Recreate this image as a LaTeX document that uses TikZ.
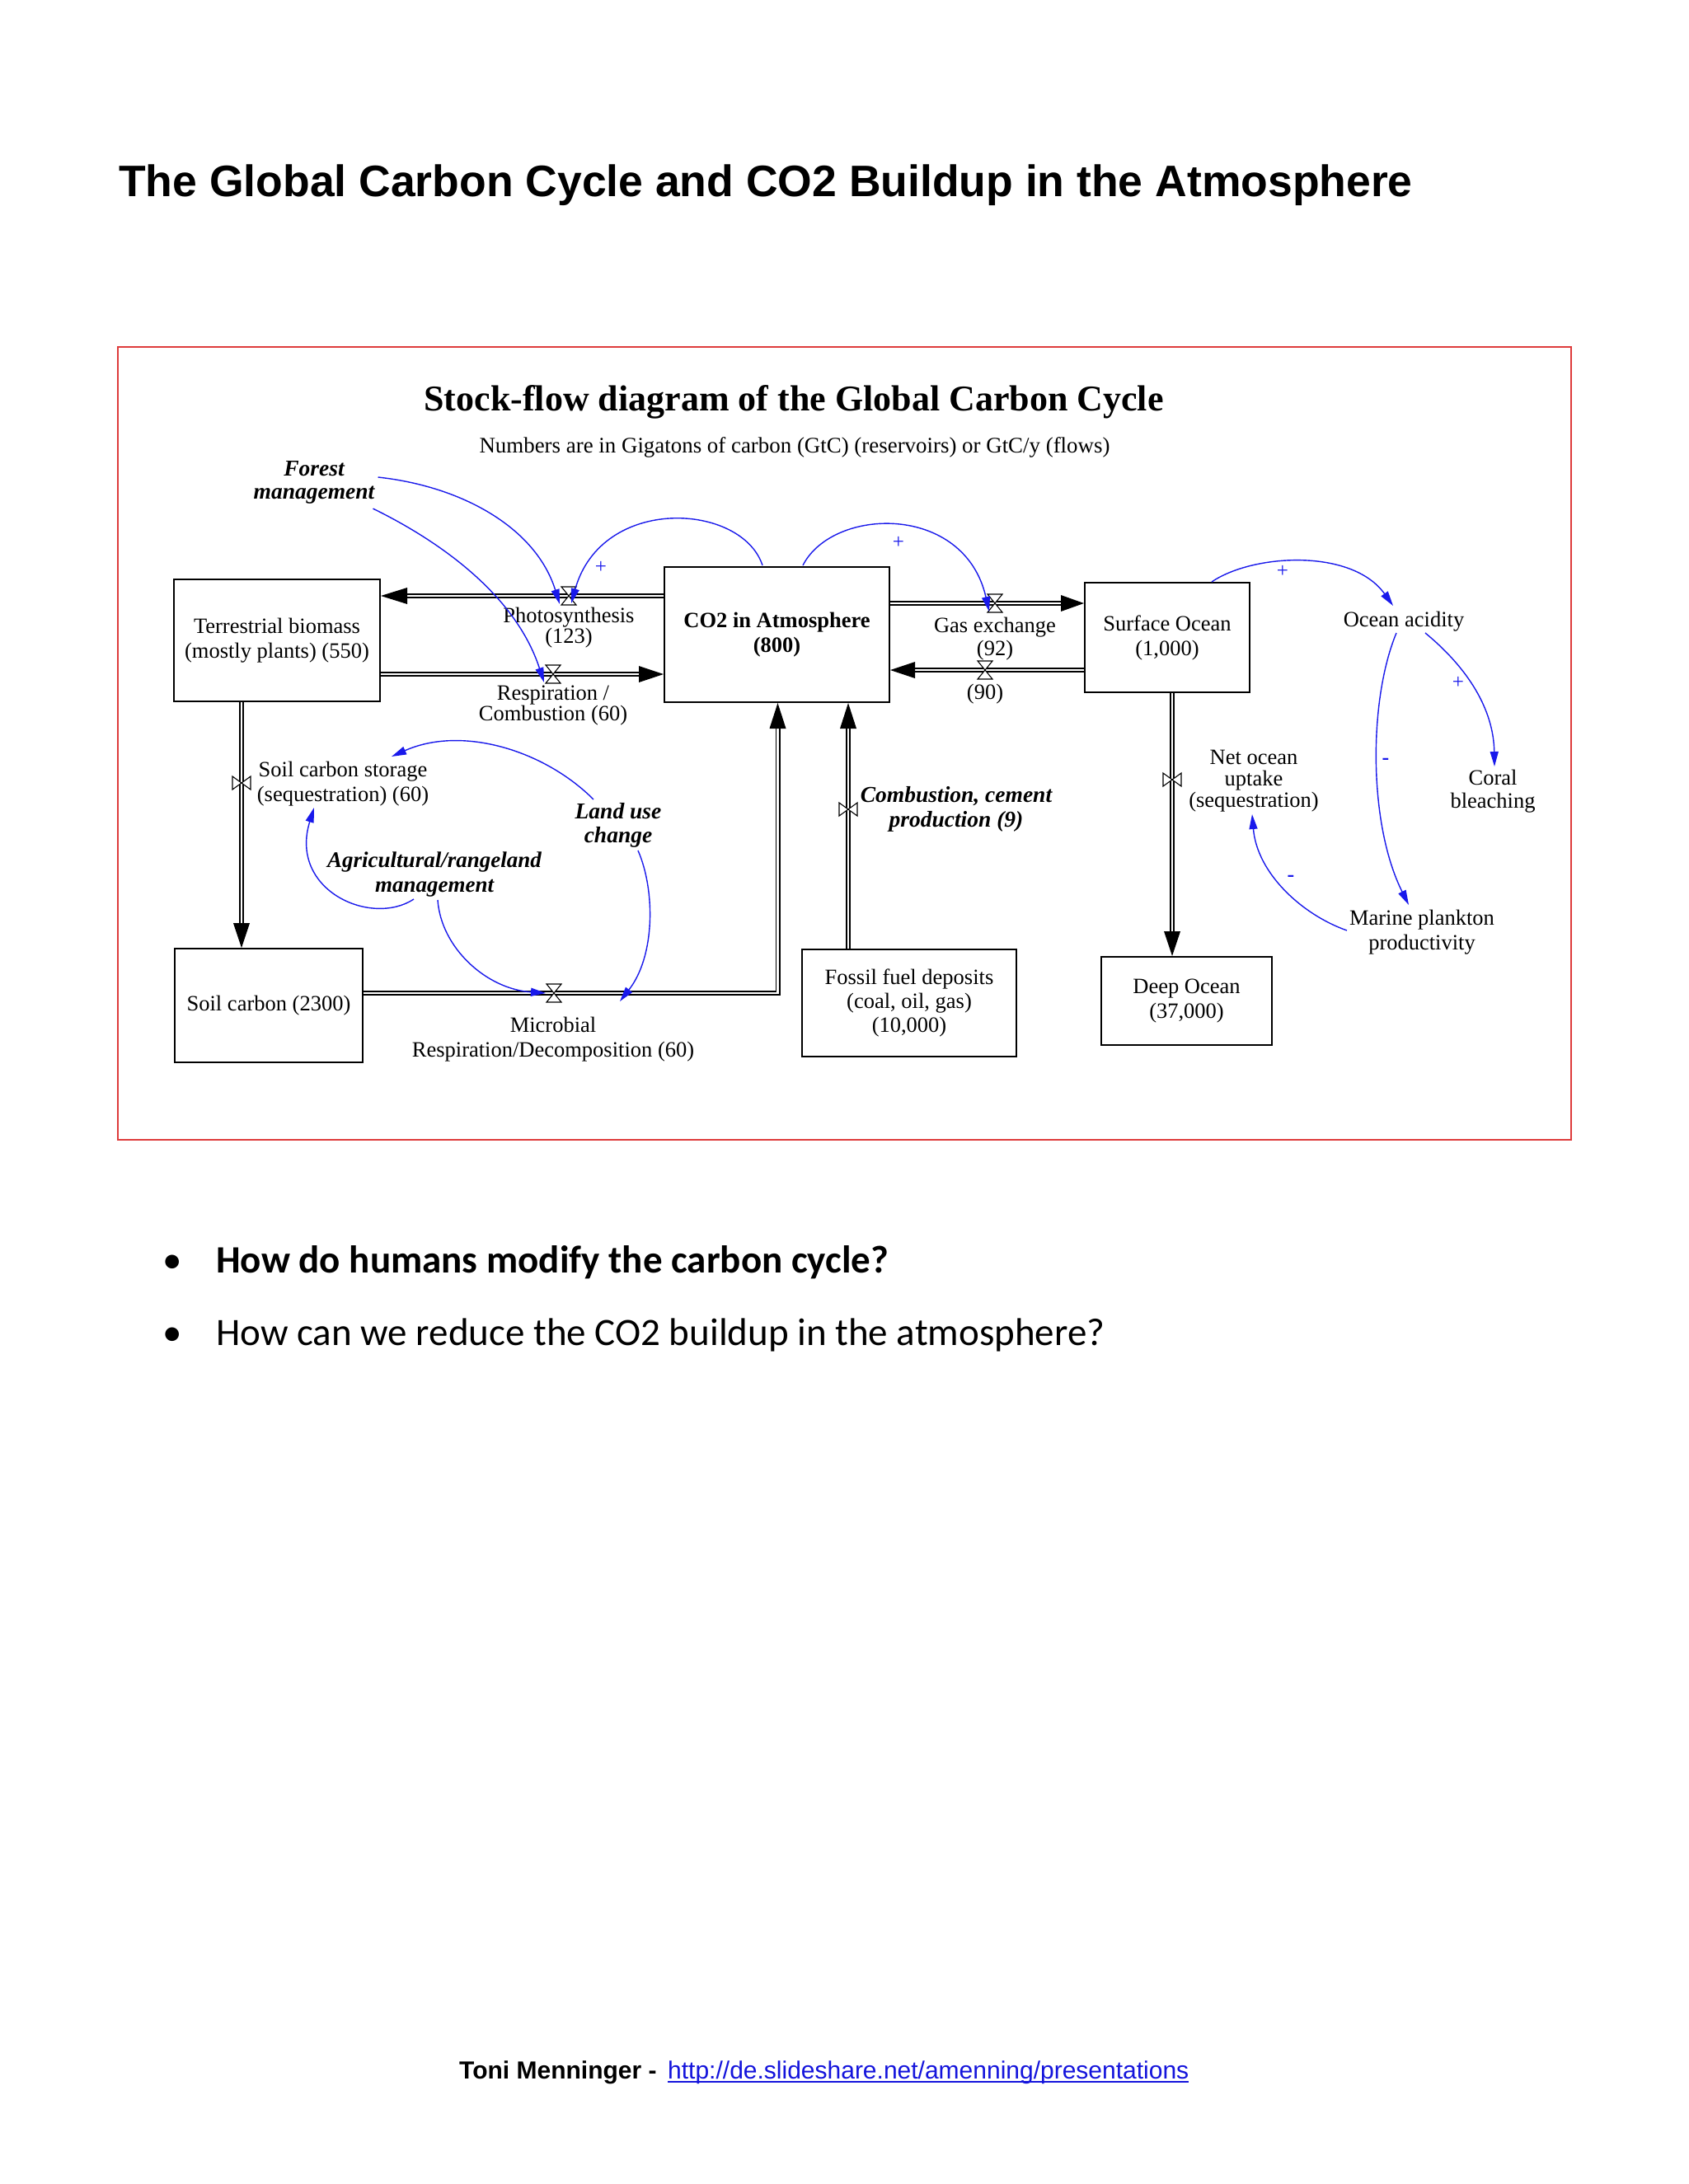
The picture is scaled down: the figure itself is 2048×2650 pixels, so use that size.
\documentclass[tikz,border=0pt]{standalone}
\usepackage{fontspec}
\setmainfont{Liberation Serif}
\newfontfamily\arialf{Liberation Sans}
\newfontfamily\calibrif{Carlito}
\usetikzlibrary{arrows.meta,calc}
\definecolor{redbox}{RGB}{222,60,60}
\definecolor{cblue}{RGB}{25,25,235}
\definecolor{linkblue}{RGB}{20,20,220}
\begin{document}
\begin{tikzpicture}[x=1pt,y=-1pt,
 stock/.style={draw=black, line width=2pt, fill=white, align=center, inner sep=0pt, font=\fontsize{26.5}{30}\selectfont},
 pipe/.style={draw=black, line width=1.7pt, double=white, double distance=2.6pt},
 lbl/.style={inner sep=0pt, align=center, font=\fontsize{26.5}{30}\selectfont},
 blbl/.style={inner sep=0pt, align=center, font=\fontsize{27.5}{29}\selectfont\bfseries\itshape},
 causal/.style={draw=cblue, line width=1.4pt, -{Triangle[length=18pt,width=10pt]}},
 sign/.style={text=cblue, inner sep=0pt, font=\fontsize{25}{25}\selectfont},
 hvalve/.pic={\filldraw[draw=black,fill=white,line width=1.1pt] (-9,-11) -- (9,-11) -- (-9,11) -- (9,11) -- cycle;},
 vvalve/.pic={\filldraw[draw=black,fill=white,line width=1.1pt] (-11,-8) -- (-11,8) -- (11,-8) -- (11,8) -- cycle;},
]
\useasboundingbox (0,0) rectangle (2048,2650);
\fill[white] (0,0) rectangle (2048,2650);

% headings
\node[anchor=base west, inner sep=0pt, font=\arialf\bfseries\fontsize{53.5}{60}\selectfont] (title) at (144,238) {The Global Carbon Cycle and CO2 Buildup in the Atmosphere};
\node[draw=redbox, line width=2pt, minimum width=1763pt, minimum height=962pt, inner sep=0pt, anchor=north west] (frame) at (142,420) {};
\node[anchor=base, inner sep=0pt, font=\bfseries\fontsize{44}{50}\selectfont] (sft) at (963,498) {Stock-flow diagram of the Global Carbon Cycle};
\node[anchor=base, inner sep=0pt, font=\fontsize{26.9}{30}\selectfont] (units) at (964,549) {Numbers are in Gigatons of carbon (GtC) (reservoirs) or GtC/y (flows)};

% stocks
\node[stock, minimum width=250pt, minimum height=148pt] (terr) at (336,777) {Terrestrial biomass\\(mostly plants) (550)};
\node[stock, minimum width=273pt, minimum height=164pt, font=\fontsize{26.5}{30}\selectfont\bfseries] (co2) at (942.5,770) {CO2 in Atmosphere\\(800)};
\node[stock, minimum width=200pt, minimum height=133pt] (surf) at (1416,773.5) {Surface Ocean\\(1,000)};
\node[stock, minimum width=228pt, minimum height=138pt] (soil) at (326,1220) {Soil carbon (2300)};
\node[stock, minimum width=260pt, minimum height=130pt, font=\fontsize{26.5}{29}\selectfont] (fossil) at (1103,1217) {Fossil fuel deposits\\(coal, oil, gas)\\(10,000)};
\node[stock, minimum width=207pt, minimum height=107pt] (deep) at (1439.5,1214.5) {Deep Ocean\\(37,000)};

% valve positions
\coordinate (vphoto) at (690,723);
\coordinate (vresp) at (671,818);
\coordinate (vgas) at (1207,732);
\coordinate (vret) at (1195,813);
\coordinate (vsoil) at (293,950);
\coordinate (vmicro) at (672,1205);
\coordinate (mcorner) at (943.5,1205);
\coordinate (vfossil) at (1029,982);
\coordinate (vdeep) at (1422,946);

% pipes
\draw[pipe] (co2.west |- vphoto) -- ($(terr.east |- vphoto)+(30,0)$);
\fill (terr.east |- vphoto) -- ++(32,-10) -- ++(0,20) -- cycle;
\draw[pipe] (terr.east |- vresp) -- ($(co2.west |- vresp)+(-28,0)$);
\fill (co2.west |- vresp) -- ++(-30,-10) -- ++(0,20) -- cycle;
\draw[pipe] (co2.east |- vgas) -- ($(surf.west |- vgas)+(-26,0)$);
\fill (surf.west |- vgas) -- ++(-28,-10) -- ++(0,20) -- cycle;
\draw[pipe] (surf.west |- vret) -- ($(co2.east |- vret)+(28,0)$);
\fill (co2.east |- vret) -- ++(30,-10) -- ++(0,20) -- cycle;
\draw[pipe] (terr.south -| vsoil) -- ($(soil.north -| vsoil)+(0,-28)$);
\fill (soil.north -| vsoil) -- ++(-10,-30) -- ++(20,0) -- cycle;
\draw[pipe] (soil.east |- mcorner) -- (mcorner) -- ($(co2.south -| mcorner)+(0,29)$);
\fill (co2.south -| mcorner) -- ++(-10,31) -- ++(20,0) -- cycle;
\draw[pipe] (fossil.north -| vfossil) -- ($(co2.south -| vfossil)+(0,29)$);
\fill (co2.south -| vfossil) -- ++(-10,31) -- ++(20,0) -- cycle;
\draw[pipe] (surf.south -| vdeep) -- ($(deep.north -| vdeep)+(0,-28)$);
\fill (deep.north -| vdeep) -- ++(-10,-30) -- ++(20,0) -- cycle;

% valves
\pic at (vphoto) {hvalve};
\pic at (vresp) {hvalve};
\pic at (vgas) {hvalve};
\pic at (vret) {hvalve};
\pic at (vmicro) {hvalve};
\pic at (vsoil) {vvalve};
\pic at (vfossil) {vvalve};
\pic at (vdeep) {vvalve};

% flow labels
\node[lbl, font=\fontsize{26.5}{25}\selectfont] (photolbl) at (690,761.5) {Photosynthesis\\(123)};
\node[lbl, font=\fontsize{26.5}{20}\selectfont] (resplbl) at (671,856) {Respiration /\\Combustion (60)};
\node[lbl, font=\fontsize{26.5}{28}\selectfont] (gaslbl) at (1207,775) {Gas exchange\\(92)};
\node[lbl, anchor=base] (retlbl) at (1195,848) {(90)};
\node[lbl] (soilstore) at (416,951) {Soil carbon storage\\(sequestration) (60)};
\node[lbl] (microlbl) at (671,1261) {Microbial\\Respiration/Decomposition (60)};
\node[blbl, font=\fontsize{27.5}{30}\selectfont\bfseries\itshape] (combust) at (1160,982) {Combustion, cement\\production (9)};
\node[lbl, font=\fontsize{26.5}{26}\selectfont] (netocean) at (1521,948) {Net ocean\\uptake\\(sequestration)};

% auxiliary labels
\node[blbl, font=\fontsize{27.5}{28}\selectfont\bfseries\itshape] (forest) at (381,585) {Forest\\management};
\node[lbl, anchor=base] (acidity) at (1703,760) {Ocean acidity};
\node[lbl, font=\fontsize{26.5}{28}\selectfont] (coral) at (1811,960) {Coral\\bleaching};
\node[lbl] (plankton) at (1725,1131) {Marine plankton\\productivity};
\node[blbl] (landuse) at (750,1001.5) {Land use\\change};
\node[blbl, font=\fontsize{27}{30}\selectfont\bfseries\itshape] (agri) at (527,1061) {Agricultural/rangeland\\management};

% causal links
\draw[causal] ([shift={(4,-6)}]forest.east) .. controls (560,590) and (650,640) .. ([shift={(-11,10)}]vphoto);
\draw[causal] ([shift={(-2,6)}]forest.south east) .. controls (530,655) and (625,720) .. ([shift={(-11,10)}]vresp);
\draw[causal] ([shift={(-17.5,-1)}]co2.north) .. controls (900,610) and (730,600) .. ([shift={(3,9)}]vphoto);
\draw[causal] ([shift={(31.5,-1)}]co2.north) .. controls (1010,615) and (1170,610) .. ([shift={(-7,10)}]vgas);
\draw[causal] ([shift={(54,0)}]surf.north) .. controls (1520,672) and (1640,665) .. (1690,735);
\draw[causal] (1729,768) .. controls (1780,810) and (1812,860) .. (1813,930);
\draw[causal] (1694,768) .. controls (1660,850) and (1660,1000) .. (1709,1098);
\draw[causal] (1634,1129) .. controls (1580,1110) and (1525,1060) .. (1519,988);
\draw[causal] (720,970) .. controls (660,910) and (560,880) .. (475,918);
\draw[causal] (774,1032) .. controls (795,1080) and (795,1160) .. ([shift={(80,10)}]vmicro);
\draw[causal] (502,1091) .. controls (450,1125) and (350,1080) .. (381,980);
\draw[causal] (531,1092) .. controls (535,1150) and (590,1200) .. ([shift={(-10,0)}]vmicro);

% signs
\node[sign] (s1) at (729,688) {+};
\node[sign] (s2) at (1090,658) {+};
\node[sign] (s3) at (1556,693) {+};
\node[sign] (s4) at (1769,828) {+};
\node[sign, font=\fontsize{26}{26}\selectfont\bfseries] (s5) at (1681,924) {-};
\node[sign, font=\fontsize{26}{26}\selectfont\bfseries] (s6) at (1566,1066) {-};

% bullets
\node[anchor=base, inner sep=0pt, font=\calibrif\fontsize{47}{52}\selectfont] (dot1) at (209,1544) {•};
\node[anchor=base west, inner sep=0pt, font=\calibrif\bfseries\fontsize{47}{52}\selectfont] (q1) at (262,1544) {How do humans modify the carbon cycle?};
\node[anchor=base, inner sep=0pt, font=\calibrif\fontsize{47}{52}\selectfont] (dot2) at (209,1632) {•};
\node[anchor=base west, inner sep=0pt, font=\calibrif\fontsize{47}{52}\selectfont] (q2) at (262,1632) {How can we reduce the CO2 buildup in the atmosphere?};

% footer
\node[anchor=base west, inner sep=0pt, font=\arialf\bfseries\fontsize{30}{34}\selectfont] (author) at (557,2522) {Toni Menninger -};
\node[anchor=base west, inner sep=0pt, font=\arialf\fontsize{30}{34}\selectfont, text=linkblue] (url) at (810,2522) {http://de.slideshare.net/amenning/presentations};
\draw[linkblue, line width=2pt] ([yshift=-4pt]url.base west) -- ([yshift=-4pt]url.base east);
\end{tikzpicture}
\end{document}
